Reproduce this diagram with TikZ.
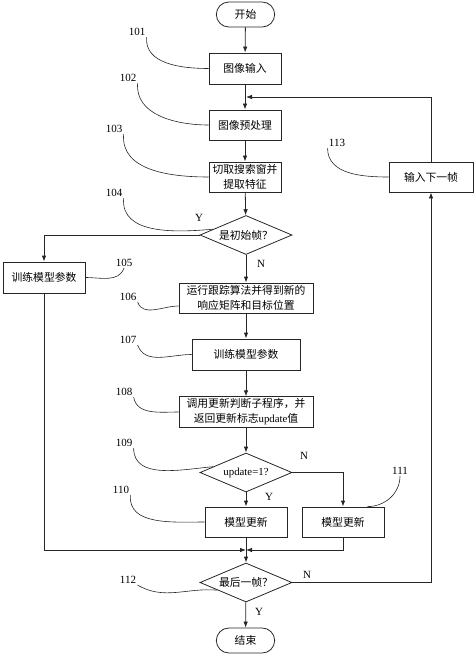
\documentclass[tikz,border=0pt]{standalone}
\usepackage{fontspec}
\setmainfont{Liberation Serif}
\newfontfamily\cjk{Noto Sans CJK SC}
\usetikzlibrary{positioning}
\usetikzlibrary{shapes.geometric,shapes.misc,arrows.meta}

\tikzset{
  box/.style={draw, rectangle, minimum height=30pt, inner sep=2pt, align=center,
    font=\cjk\fontsize{10.8}{15}\selectfont},
  term/.style={draw, rounded rectangle, minimum width=65pt, minimum height=25pt,
    font=\cjk\fontsize{10.8}{15}\selectfont},
  decision/.style={draw, diamond, aspect=2.4, inner sep=0pt, minimum width=92pt,
    minimum height=39pt, font=\cjk\fontsize{10.8}{15}\selectfont},
  num/.style={inner sep=1pt, font=\fontsize{11}{12}\selectfont},
  yn/.style={inner sep=1pt, font=\fontsize{11}{12}\selectfont},
}

\begin{document}
\begin{tikzpicture}[x=1pt, y=-1pt, >={Latex[length=6pt,width=4.5pt]},
    line width=0.8pt, draw=black!85]
    \useasboundingbox (0,0) rectangle (474,655);

    % main column
    \node[term] (start) at (245.5,14.5) {开始};
    \node[box, minimum width=72pt, minimum height=31pt] (input) at (245,68.5) {图像输入};
    \node[box, minimum width=72pt] (pre) at (245,125) {图像预处理};
    \node[box, minimum width=72pt] (crop) at (245,177) {切取搜索窗并\\提取特征};
    \node[decision] (init) at (246,235) {是初始帧？};
    \node[box, minimum width=82pt, minimum height=31pt] (trainA) at (44,277.5) {训练模型参数};
    \node[box, minimum width=134pt] (track) at (246,298) {运行跟踪算法并得到新的\\响应矩阵和目标位置};
    \node[box, minimum width=108pt, minimum height=31pt] (train) at (246,354.5) {训练模型参数};
    \node[box, minimum width=134pt] (call) at (246,412) {调用更新判断子程序，并\\返回更新标志{\rmfamily update}值};
    \node[decision] (upd) at (246,472.5) {\rmfamily update=1?};
    \node[box, minimum width=82pt] (modA) at (246,522) {模型更新};
    \node[box, minimum width=82pt] (modB) at (343,522) {模型更新};
    \node[decision] (last) at (246,582.5) {最后一帧？};
    \node[box, minimum width=84pt] (next) at (431,177) {输入下一帧};
    \node[term] (end) at (245.5,640.5) {结束};

    \coordinate (m1) at (246,97);
    \coordinate (m2) at (246,550);

    % yes / no
    \node[yn] (y1) at (199,218) {Y};
    \node[yn] (n1) at (261,264) {N};
    \node[yn] (n2) at (304,456) {N};
    \node[yn] (y2) at (269,497) {Y};
    \node[yn] (n3) at (307,575) {N};
    \node[yn] (y3) at (259,612) {Y};

    % step numbers
    \node[num] (l101) at (137,32) {101};
    \node[num] (l102) at (128,78) {102};
    \node[num] (l103) at (114,129) {103};
    \node[num] (l104) at (114,193) {104};
    \node[num] (l105) at (124,263) {105};
    \node[num] (l106) at (128,297) {106};
    \node[num] (l107) at (128,340) {107};
    \node[num] (l108) at (124,392) {108};
    \node[num] (l109) at (124,443) {109};
    \node[num] (l110) at (121,490) {110};
    \node[num] (l111) at (400,471) {111};
    \node[num] (l112) at (128,580) {112};
    \node[num] (l113) at (337,143) {113};

    \path[->]
    (start) edge (input)
    (input) edge (pre)
    (pre) edge (crop)
    (crop) edge (init)
    (init) edge (track)
    (track) edge (train)
    (train) edge (call)
    (call) edge (upd)
    (upd) edge (modA)
    (modA) edge (last)
    (last) edge (end)
    ;
    \draw[->] (next.north) |- (m1);
    \draw[->] (init.west) -| (trainA.north);
    \draw[->] (upd.east) -| (modB.north);
    \draw[->] (trainA.south) |- (m2);
    \draw[->] (modB.south) |- (m2);
    \draw[->] (last.east) -| (next.south);

    % leader curves
    \draw[line width=0.6pt] (l101.south east) to[out=-95,in=180] (input.west);
    \draw[line width=0.6pt] (l102.south east) to[out=-95,in=180] (pre.west);
    \draw[line width=0.6pt] (l103.south east) to[out=-95,in=180] (crop.west);
    \draw[line width=0.6pt] (l104.south east) to[out=-95,in=185] (init.170);
    \draw[line width=0.6pt] (trainA.east) to[out=0,in=-110] (l105.south);
    \draw[line width=0.6pt] (l106.south east) to[out=-70,in=180] ([yshift=-8pt]track.west);
    \draw[line width=0.6pt] (l107.south east) to[out=-70,in=180] (train.west);
    \draw[line width=0.6pt] (l108.south east) to[out=-80,in=180] (call.west);
    \draw[line width=0.6pt] (l109.south east) to[out=-90,in=185] (upd.170);
    \draw[line width=0.6pt] (l110.south east) to[out=-95,in=180] (modA.west);
    \draw[line width=0.6pt] (l111.south) to[out=-90,in=0] ([xshift=-17pt]modB.north east);
    \draw[line width=0.6pt] (l112.south east) to[out=-30,in=175] (last.195);
    \draw[line width=0.6pt] (l113.south west) to[out=-90,in=180] (next.west);
\end{tikzpicture}
\end{document}
